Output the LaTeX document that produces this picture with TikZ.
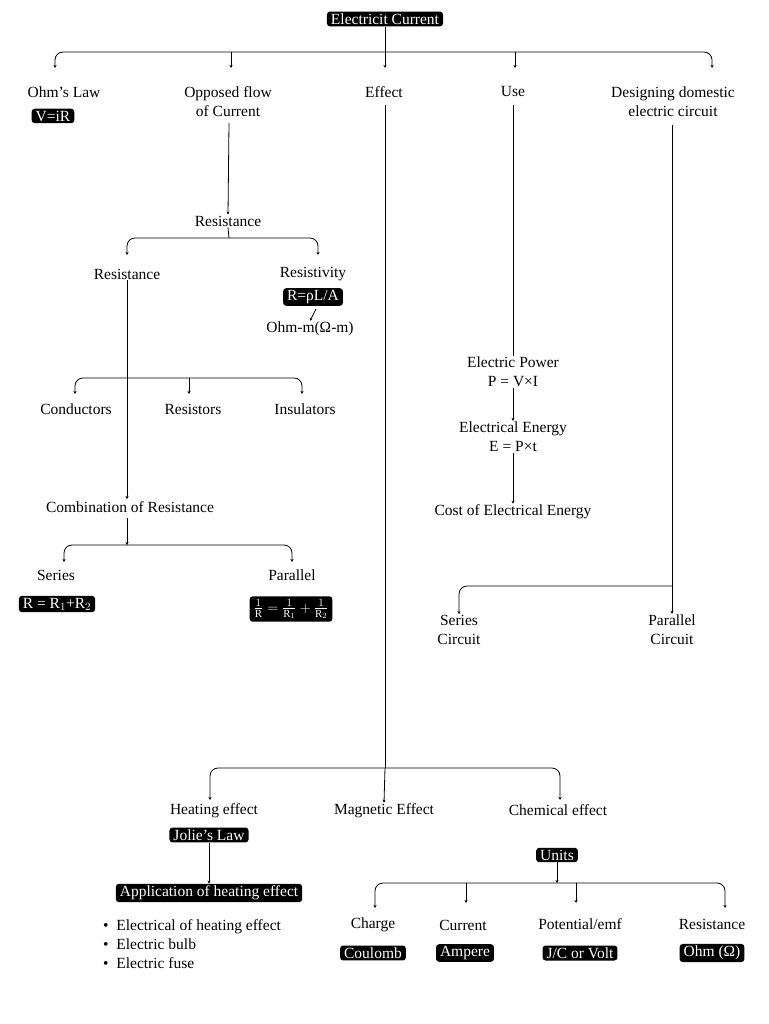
\documentclass[tikz,border=0pt]{standalone}
\usepackage{fontspec}
\setmainfont{Liberation Serif}
\usetikzlibrary{arrows.meta}
\begin{document}
\begin{tikzpicture}[x=1pt,y=-1pt,
  t/.style={font=\fontsize{15.5}{19}\selectfont,align=center,inner sep=1pt},
  bx/.style={t,fill=black,text=white,rounded corners=3pt,inner xsep=4pt,inner ysep=2pt},
  ln/.style={line width=0.8pt},
  ar/.style={ln,-{Stealth[length=3pt,width=3pt]}},
  br/.style={ln,rounded corners=8pt,-{Stealth[length=3pt,width=3pt]}}]
\useasboundingbox (0,0) rectangle (768,1024);
% top
\node[bx] (top) at (385,19) {Electricit Current};
\node[t] (ohm) at (64,92) {Ohm's Law};
\node[bx] (vir) at (53,116) {V=iR};
\node[t] (opp) at (228,102) {Opposed flow\\of Current};
\node[t] (eff) at (384,92) {Effect};
\node[t] (use) at (513,92) {Use};
\node[t] (des) at (673,102) {Designing domestic\\electric circuit};
\coordinate (tj) at (385,52);
\draw[ln] (top.south) -- (tj);
\draw[br] (tj) -| (55,68);
\draw[br] (tj) -| (712,68);
\foreach \x in {231,385,515}{\draw[ar] (\x,52) -- (\x,68);}
% resistance
\node[t] (res) at (228,221) {Resistance};
\draw[ar] (229,123) -- (res.north);
\coordinate (rj) at (229,238);
\draw[ln] (res.south) -- (rj);
\node[t] (res2) at (127,274) {Resistance};
\node[t] (rsv) at (313,274) {Resistivity};
\node[bx] (rho) at (313,297) {R=ρL/A};
\node[t] (ohmm) at (310,329) {Ohm-m(Ω-m)};
\draw[br] (rj) -| (127,255);
\draw[br] (rj) -| (318,255);
\draw[ar] (316,309) -- (ohmm.north);
% conductors
\node[t] (cond) at (76,409) {Conductors};
\node[t] (rstr) at (193,409) {Resistors};
\node[t] (ins) at (305,409) {Insulators};
\draw[br] (189,378) -| (75,394);
\draw[br] (189,378) -| (302,394);
\draw[ar] (189,378) -- (189,394);
\node[t] (comb) at (130,507) {Combination of Resistance};
\draw[ar] (res2.south -| 127,0) -- (127,499);
\coordinate (cj) at (127,545);
\draw[ar] (127,518) -- (cj);
\draw[br] (cj) -| (64,562);
\draw[br] (cj) -| (292,562);
\node[t] (ser) at (56,575) {Series};
\node[t] (par) at (292,575) {Parallel};
\node[bx] (sf) at (57,604) {R = R$_1$+R$_2$};
\node[bx,inner ysep=3pt] (pf) at (291,609) {$\frac{1}{\mathrm{R}}=\frac{1}{\mathrm{R}_1}+\frac{1}{\mathrm{R}_2}$};
% use
\node[t] (ep) at (513,372) {Electric Power\\P = V×I};
\node[t] (ee) at (513,437) {Electrical Energy\\E = P×t};
\node[t] (cost) at (513,512) {Cost of Electrical Energy};
\draw[ln] (513,105) -- (ep.north);
\draw[ar] (ep.south) -- (ee.north);
\draw[ar] (ee.south) -- (cost.north);
% domestic
\node[t] (sc) at (459,630) {Series\\Circuit};
\node[t] (pc) at (672,630) {Parallel\\Circuit};
\draw[ar] (672,125) -- (pc.north);
\draw[br] (672,586) -| (sc.north);
% effect
\coordinate (ej) at (385,768);
\draw[ln] (385,105) -- (ej);
\node[t] (he) at (214,811) {Heating effect};
\node[t] (me) at (384,811) {Magnetic Effect};
\node[t] (ce) at (558,810) {Chemical effect};
\draw[br] (ej) -| (210,800);
\draw[br] (ej) -| (560,800);
\draw[ar] (ej) -- (me.north);
\node[bx] (jl) at (209,835) {Jolie's Law};
\node[bx] (app) at (209,893) {Application of heating effect};
\draw[ar] (jl.south) -- (app.north);
\node[t,anchor=west,align=left] (bul) at (102,944) {•\enspace Electrical of heating effect\\•\enspace Electric bulb\\•\enspace Electric fuse};
% units
\node[bx] (un) at (557,855) {Units};
\coordinate (uj) at (557,883);
\draw[ar] (un.south) -- (uj);
\draw[br] (uj) -| (375,908);
\draw[br] (uj) -| (725,908);
\draw[ar] (466,883) -- (466,903);
\draw[ar] (576,883) -- (576,903);
\node[t] (ch) at (373,925) {Charge};
\node[t] (cu) at (463,925) {Current};
\node[t] (po) at (580,924) {Potential/emf};
\node[t] (re) at (712,924) {Resistance};
\node[bx] (co) at (373,953) {Coulomb};
\node[bx] (am) at (465,953) {Ampere};
\node[bx] (jc) at (580,953) {J/C or Volt};
\node[bx] (oo) at (712,953) {Ohm (Ω)};
\end{tikzpicture}
\end{document}
